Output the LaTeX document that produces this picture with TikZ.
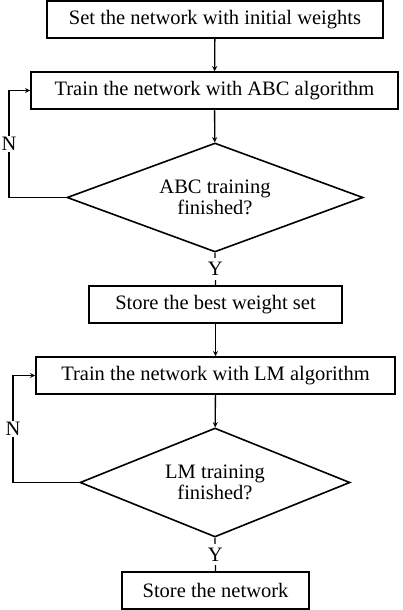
\documentclass[tikz,border=0pt]{standalone}
\usepackage{fontspec}
\setmainfont{Liberation Serif}
\usetikzlibrary{shapes.geometric}

\begin{document}
\begin{tikzpicture}[->,>=stealth,x=1pt,y=-1pt,line width=1.3pt,
  font=\fontsize{20.5}{21.5}\selectfont,
  box/.style={rectangle,draw,line width=1.6pt,minimum height=37pt,inner sep=0pt},
  decision/.style={diamond,draw,line width=1.6pt,aspect=2.7,inner sep=0pt,minimum height=109pt,align=center},
  lab/.style={fill=white,inner sep=1pt},
  ylab/.style={fill=white,inner xsep=2pt,inner ysep=4pt}]

            \useasboundingbox (0,0) rectangle (402,610);

            \node[box, minimum width=336pt] (set) at (215,19.5) {Set the network with initial weights};
            \node[box, minimum width=367pt] (abc) at (214.5,90.5) {Train the network with ABC algorithm};
            \node[decision, minimum width=296pt] (d1) at (215,197.5) {ABC training\\finished?};
            \node[box, minimum width=253pt] (best) at (215.5,304.5) {Store the best weight set};
            \node[box, minimum width=359pt] (lm) at (215.5,375.5) {Train the network with LM algorithm};
            \node[decision, minimum width=270pt] (d2) at (215,482.5) {LM training\\finished?};
            \node[box, minimum width=187pt] (store) at (215.5,590.5) {Store the network};

            \coordinate (n1) at (9,197.5);
            \coordinate (n2) at (13,482.5);

            \draw[->] (set) to (abc);
            \draw[->] (abc) to (d1);
            \draw[-] (d1.south) to node[ylab] {Y} (best.north);
            \draw[->] (best) to (lm);
            \draw[->] (lm) to (d2);
            \draw[-] (d2.south) to node[ylab] {Y} (store.north);

            \draw[->] (d1.west) -- (n1) |- node[lab, pos=0.25] {N} (abc.west);
            \draw[->] (d2.west) -- (n2) |- node[lab, pos=0.25] {N} (lm.west);

            ;
        \end{tikzpicture}
\end{document}
